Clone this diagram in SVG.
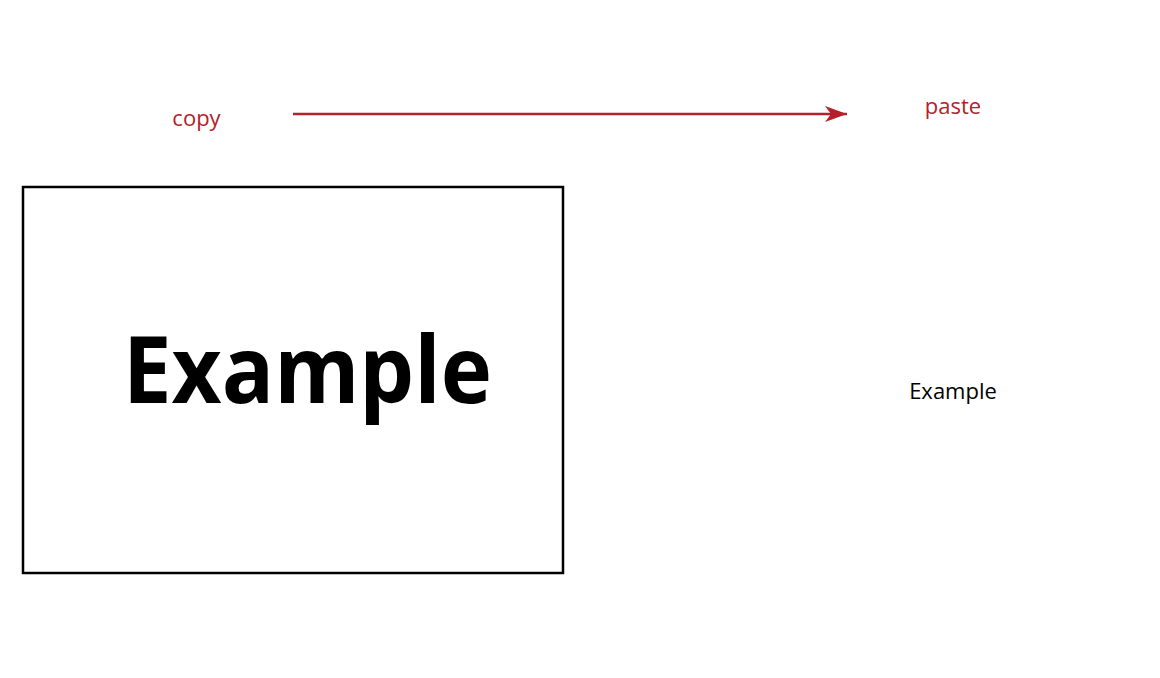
<svg xmlns="http://www.w3.org/2000/svg" width="1160" height="678" viewBox="0 0 1160 678">
<style>
.red{fill:#b5202a;font-family:"Open Sans","Liberation Sans",sans-serif;font-size:22px}
.blk{fill:#000;font-family:"Open Sans","Liberation Sans",sans-serif}
</style>
<defs>
<marker id="ah" markerWidth="22" markerHeight="16" refX="22" refY="8" orient="auto" markerUnits="userSpaceOnUse">
<path d="M0,0 L22,8 L0,16 L6,8 Z" fill="#b5202a"/>
</marker>
</defs>
<rect width="1160" height="678" fill="#fff"/>
<g id="connectors">
<line x1="293" y1="114" x2="847" y2="114" stroke="#b5202a" stroke-width="2.5" marker-end="url(#ah)"/>
</g>
<g id="copy"><text class="red" x="196.5" y="126" text-anchor="middle">copy</text></g>
<g id="paste"><text class="red" x="953" y="114" text-anchor="middle">paste</text></g>
<g id="box">
<rect x="23" y="187" width="540" height="386" fill="#fff" stroke="#000" stroke-width="2.5"/>
<text class="blk" x="123" y="403" font-size="93" font-weight="bold" textLength="369" lengthAdjust="spacingAndGlyphs">Example</text>
</g>
<g id="example2"><text class="blk" x="953" y="399" text-anchor="middle" font-size="22">Example</text></g>
</svg>
